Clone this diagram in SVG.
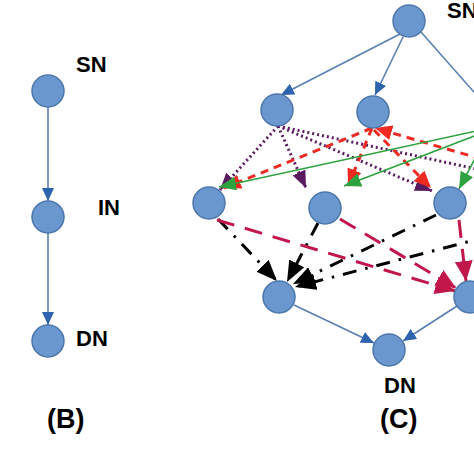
<svg xmlns="http://www.w3.org/2000/svg" width="474" height="474" viewBox="0 0 474 474">
<style>
.node{fill:#6b97cf;stroke:#4d77aa;stroke-width:1.5}
.lbl{font-family:"Liberation Sans",Arial,sans-serif;font-weight:bold;font-size:22px;fill:#000}
.cap{font-family:"Liberation Sans",Arial,sans-serif;font-weight:bold;font-size:27px;fill:#000}
.blue{stroke:#5a7fb2;stroke-width:1.6;fill:none}
.pur{stroke:#5a1a60;stroke-width:3;stroke-dasharray:2 3;fill:none}
.red{stroke:#ee2a22;stroke-width:3;stroke-dasharray:8 6;fill:none}
.grn{stroke:#2ea23f;stroke-width:1.6;fill:none}
.blk{stroke:#000;stroke-width:3;stroke-dasharray:14 9 2.5 9;fill:none}
.crm{stroke:#c2174b;stroke-width:3;stroke-dasharray:18 11;fill:none}
</style>
<defs>
<marker id="mBlue" markerUnits="userSpaceOnUse" viewBox="0 0 13 12" markerWidth="13" markerHeight="12" refX="13" refY="6" orient="auto"><path d="M0,0 L13,6 L0,12 z" fill="#2e63ad" stroke="none"/></marker>
<marker id="mPur" markerUnits="userSpaceOnUse" viewBox="0 0 17 14" markerWidth="17" markerHeight="14" refX="17" refY="7" orient="auto"><path d="M0,0 L17,7 L0,14 z" fill="#5a1a60" stroke="none"/></marker>
<marker id="mRed" markerUnits="userSpaceOnUse" viewBox="0 0 17 15" markerWidth="17" markerHeight="15" refX="17" refY="7.5" orient="auto"><path d="M0,0 L17,7.5 L0,15 z" fill="#ee2a22" stroke="none"/></marker>
<marker id="mGrn" markerUnits="userSpaceOnUse" viewBox="0 0 17 14" markerWidth="17" markerHeight="14" refX="17" refY="7" orient="auto"><path d="M0,0 L17,7 L0,14 z" fill="#2ea23f" stroke="none"/></marker>
<marker id="mBlk" markerUnits="userSpaceOnUse" viewBox="0 0 21 17" markerWidth="21" markerHeight="17" refX="21" refY="8.5" orient="auto"><path d="M0,0 L21,8.5 L0,17 z" fill="#000" stroke="none"/></marker>
<marker id="mCrm" markerUnits="userSpaceOnUse" viewBox="0 0 20 18" markerWidth="20" markerHeight="18" refX="20" refY="9" orient="auto"><path d="M0,0 L20,9 L0,18 z" fill="#c2174b" stroke="none"/></marker>
</defs>
<rect width="474" height="474" fill="#fff"/>

<g id="connectors">
<line class="blue" x1="48" y1="107" x2="48" y2="201" marker-end="url(#mBlue)"/>
<line class="blue" x1="48" y1="233" x2="48" y2="325" marker-end="url(#mBlue)"/>
<line class="blue" x1="400" y1="34" x2="281" y2="95" marker-end="url(#mBlue)"/>
<line class="blue" x1="403" y1="37" x2="375" y2="95" marker-end="url(#mBlue)"/>
<line class="blue" x1="421" y1="32" x2="495" y2="116"/>
<line class="pur" x1="278" y1="126" x2="220" y2="190" marker-end="url(#mPur)"/>
<line class="pur" x1="278" y1="126" x2="306" y2="188" marker-end="url(#mPur)"/>
<line class="pur" x1="278" y1="126" x2="432" y2="191" marker-end="url(#mPur)"/>
<line class="pur" x1="278" y1="126" x2="495" y2="173"/>
<line class="red" x1="372" y1="128" x2="224" y2="188" marker-end="url(#mRed)"/>
<line class="red" x1="372" y1="128" x2="348" y2="186" marker-end="url(#mRed)"/>
<line class="red" x1="374" y1="130" x2="431" y2="188" marker-end="url(#mRed)"/>
<line class="red" x1="495" y1="163" x2="375" y2="128" marker-end="url(#mRed)"/>
<line class="grn" x1="490" y1="128" x2="219" y2="187" marker-end="url(#mGrn)"/>
<line class="grn" x1="490" y1="130" x2="344" y2="186" marker-end="url(#mGrn)"/>
<line class="grn" x1="490" y1="130" x2="459" y2="189" marker-end="url(#mGrn)"/>
<line class="blk" x1="218" y1="219" x2="277" y2="281" marker-end="url(#mBlk)"/>
<line class="blk" x1="318" y1="223" x2="287" y2="282" marker-end="url(#mBlk)"/>
<line class="blk" x1="436" y1="215" x2="293" y2="284" marker-end="url(#mBlk)"/>
<line class="blk" x1="490" y1="236" x2="295" y2="287" marker-end="url(#mBlk)"/>
<line class="crm" x1="217" y1="220" x2="455" y2="291" marker-end="url(#mCrm)"/>
<line class="crm" x1="340" y1="219" x2="456" y2="288" marker-end="url(#mCrm)"/>
<line class="crm" x1="459" y1="220" x2="466" y2="281" marker-end="url(#mCrm)"/>
<line class="blue" x1="294" y1="305" x2="374" y2="343" marker-end="url(#mBlue)"/>
<line class="blue" x1="457" y1="306" x2="403" y2="341" marker-end="url(#mBlue)"/>
</g>

<g id="nodeB-SN"><circle class="node" cx="48" cy="91" r="16"/><text class="lbl" x="76" y="72">SN</text></g>
<g id="nodeB-IN"><circle class="node" cx="48" cy="217" r="16"/><text class="lbl" x="98" y="215">IN</text></g>
<g id="nodeB-DN"><circle class="node" cx="48" cy="341" r="16"/><text class="lbl" x="76" y="346">DN</text></g>

<g id="nodeC-SN"><circle class="node" cx="409" cy="21" r="16"/><text class="lbl" x="447" y="18">SN</text></g>
<g id="nodeC-A1"><circle class="node" cx="277" cy="110" r="16"/></g>
<g id="nodeC-A2"><circle class="node" cx="373" cy="112" r="16"/></g>
<g id="nodeC-B1"><circle class="node" cx="209" cy="203" r="16"/></g>
<g id="nodeC-B2"><circle class="node" cx="325" cy="208" r="16"/></g>
<g id="nodeC-B3"><circle class="node" cx="450" cy="203" r="16"/></g>
<g id="nodeC-C1"><circle class="node" cx="279" cy="297" r="16"/></g>
<g id="nodeC-C2"><circle class="node" cx="470" cy="297" r="16"/></g>
<g id="nodeC-DN"><circle class="node" cx="389" cy="350" r="16"/><text class="lbl" x="384" y="393">DN</text></g>

<g id="captions">
<text class="cap" x="47" y="428">(B)</text>
<text class="cap" x="380" y="428">(C)</text>
</g>
</svg>
